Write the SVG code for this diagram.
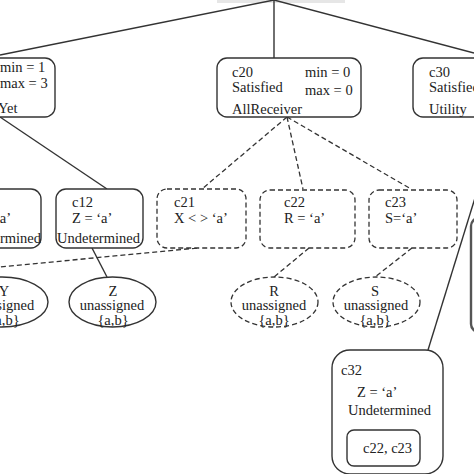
<svg xmlns="http://www.w3.org/2000/svg" width="474" height="474" viewBox="0 0 474 474">
<style>
.n{fill:#fff;stroke:#333;stroke-width:1.4}
.d{fill:#fff;stroke:#333;stroke-width:1.3;stroke-dasharray:5,3}
.l{fill:none;stroke:#333;stroke-width:1.4}
.ld{fill:none;stroke:#333;stroke-width:1.3;stroke-dasharray:5,3}
text{font-family:"Liberation Serif","Times New Roman",serif;font-size:14.5px;fill:#222}
.c{text-anchor:middle}
.e{text-anchor:end}
</style>
<rect x="217" y="0" width="128" height="3" fill="#e6e6e6"/>
<g id="connectors">
<path class="l" d="M274,0 L0,55"/>
<path class="l" d="M274,0 L274,58"/>
<path class="l" d="M274,0 L474,53"/>
<path class="l" d="M0,117 L107,189"/>
<path class="l" d="M92,248 L107,277"/>
<path class="l" d="M500,117 L428,350"/>
<path class="ld" d="M287,117 L202,189"/>
<path class="ld" d="M287,117 L303,189"/>
<path class="ld" d="M287,117 L411,189"/>
<path class="ld" d="M197,248 L0,267"/>
<path class="ld" d="M309,248 L274,277"/>
<path class="ld" d="M412,248 L375,277"/>
</g>
<g id="c10">
<rect class="n" x="-60" y="58" width="115" height="59" rx="10"/>
<text x="0" y="72">min = 1</text>
<text x="0" y="88">max = 3</text>
<text x="-2" y="113">Yet</text>
</g>
<g id="c20">
<rect class="n" x="217" y="58" width="144" height="59" rx="10"/>
<text x="232" y="77">c20</text>
<text x="232" y="92">Satisfied</text>
<text x="232" y="114">AllReceiver</text>
<text x="305" y="77">min = 0</text>
<text x="305" y="95">max = 0</text>
</g>
<g id="c30">
<rect class="n" x="413" y="58" width="110" height="59" rx="10"/>
<text x="429" y="77">c30</text>
<text x="429" y="92">Satisfied</text>
<text x="429" y="114">Utility</text>
</g>
<g id="c11">
<rect class="n" x="-50" y="189" width="91" height="59" rx="10"/>
<text class="e" x="11" y="223">‘a’</text>
<text class="e" x="41" y="243">Undetermined</text>
</g>
<g id="c12">
<rect class="n" x="56" y="189" width="87" height="59" rx="10"/>
<text x="72" y="207">c12</text>
<text x="72" y="223">Z = ‘a’</text>
<text x="57" y="243">Undetermined</text>
</g>
<g id="c21">
<rect class="d" x="157" y="189" width="89" height="59" rx="10"/>
<text x="174" y="207">c21</text>
<text x="174" y="223">X &lt; &gt; ‘a’</text>
</g>
<g id="c22">
<rect class="d" x="260" y="190" width="95" height="58" rx="10"/>
<text x="284" y="207">c22</text>
<text x="284" y="223">R = ‘a’</text>
</g>
<g id="c23">
<rect class="d" x="369" y="190" width="88" height="58" rx="10"/>
<text x="385" y="207">c23</text>
<text x="385" y="223">S=‘a’</text>
</g>
<g id="c31">
<rect x="471" y="218" width="40" height="114" rx="8" fill="#fff" stroke="#555" stroke-width="2.4"/>
</g>
<g id="varY">
<ellipse class="n" cx="2" cy="302" rx="46" ry="25"/>
<text class="c" x="4" y="296">Y</text>
<text class="c" x="2" y="310">unassigned</text>
<text class="c" x="4" y="325">{a,b}</text>
</g>
<g id="varZ">
<ellipse class="n" cx="112.5" cy="302" rx="43.5" ry="25"/>
<text class="c" x="113" y="296">Z</text>
<text class="c" x="112" y="310">unassigned</text>
<text class="c" x="113" y="325">{a,b}</text>
</g>
<g id="varR">
<ellipse class="d" cx="274.5" cy="302" rx="43.5" ry="25"/>
<text class="c" x="274" y="296">R</text>
<text class="c" x="274" y="310">unassigned</text>
<text class="c" x="274" y="325">{a,b}</text>
</g>
<g id="varS">
<ellipse class="d" cx="376.5" cy="302" rx="43.5" ry="25"/>
<text class="c" x="375" y="296">S</text>
<text class="c" x="376" y="310">unassigned</text>
<text class="c" x="375" y="325">{a,b}</text>
</g>
<g id="c32">
<rect class="n" x="332" y="350" width="111" height="124" rx="18"/>
<text x="341" y="375">c32</text>
<text x="357" y="397">Z = ‘a’</text>
<text x="348" y="415">Undetermined</text>
<rect class="n" x="347" y="430" width="73" height="36" rx="7"/>
<text x="363" y="453">c22, c23</text>
</g>
</svg>
